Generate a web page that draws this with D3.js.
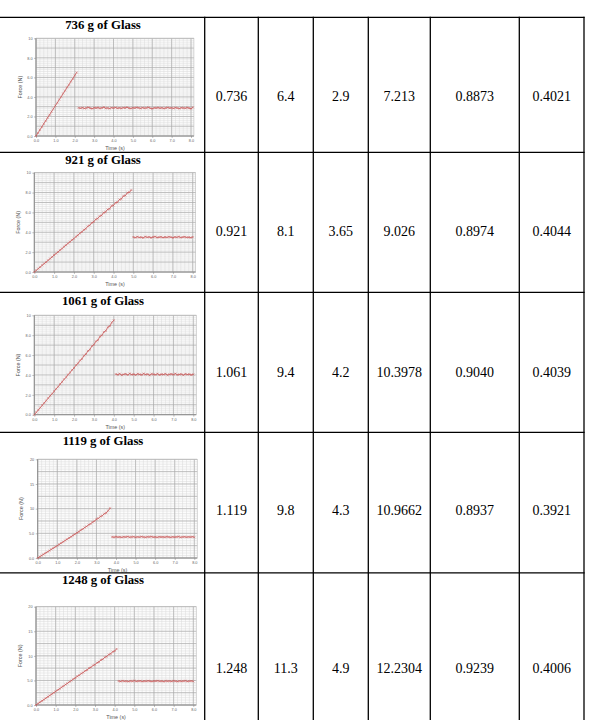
<!DOCTYPE html>
<html><head><meta charset="utf-8">
<script src="https://cdn.jsdelivr.net/npm/d3@7"></script>
<style>body{margin:0;background:#fff}svg{display:block}</style>
</head><body>
<script>
// ---------- DATA ----------
const titles = ["736 g of Glass","921 g of Glass","1061 g of Glass","1119 g of Glass","1248 g of Glass"];
const colMass   = ["0.736","0.921","1.061","1.119","1.248"];
const colStatic = ["6.4","8.1","9.4","9.8","11.3"];
const colKinetic= ["2.9","3.65","4.2","4.3","4.9"];
const colNormal = ["7.213","9.026","10.3978","10.9662","12.2304"];
const colMuS    = ["0.8873","0.8974","0.9040","0.8937","0.9239"];
const colMuK    = ["0.4021","0.4044","0.4039","0.3921","0.4006"];

const sampleStep = 0.1; // s between samples
const xTicks = [0,1,2,3,4,5,6,7,8];
const yTicksSmall = [0,2,4,6,8,10];
const yTicksLarge = [0,5,10,15,20];

// ramp (static) samples, starting at t = 0
const ramp1 = [0,0.31,0.63,0.93,1.25,1.55,1.87,2.17,2.49,2.79,3.11,3.4,3.73,4.02,4.35,4.64,4.97,5.25,5.58,5.86,6.2,6.5];
const ramp2 = [0,0.17,0.34,0.5,0.68,0.85,1.0,1.18,1.35,1.52,1.7,1.86,2.02,2.2,2.36,2.55,2.7,2.88,3.04,3.22,3.36,3.56,3.7,3.9,4.03,4.24,4.36,4.6,4.7,4.95,5.05,5.3,5.38,5.62,5.7,5.98,6.04,6.3,6.36,6.66,6.7,6.98,7.02,7.3,7.36,7.65,7.7,7.98,8.02,8.26];
const ramp3 = [0,0.24,0.47,0.71,0.95,1.18,1.42,1.66,1.9,2.12,2.36,2.6,2.82,3.08,3.3,3.56,3.76,4.04,4.24,4.5,4.7,4.98,5.16,5.46,5.62,5.94,6.1,6.42,6.56,6.9,7.04,7.38,7.5,7.86,7.98,8.32,8.44,8.8,8.92,9.28,9.5];
const ramp4 = [0,0.25,0.5,0.75,1.0,1.25,1.5,1.76,2.0,2.26,2.5,2.77,3.02,3.28,3.54,3.8,4.05,4.3,4.58,4.82,5.1,5.34,5.64,5.86,6.18,6.4,6.72,6.92,7.26,7.48,7.86,8.02,8.42,8.56,8.98,9.12,9.6,10.1];
const ramp5 = [0,0.28,0.56,0.83,1.1,1.38,1.66,1.94,2.2,2.5,2.76,3.04,3.3,3.6,3.86,4.16,4.4,4.72,4.96,5.28,5.52,5.84,6.06,6.4,6.6,6.96,7.12,7.5,7.66,8.06,8.2,8.6,8.76,9.16,9.3,9.72,9.86,10.28,10.42,10.84,11.0,11.4];

// plateau (kinetic) samples and their start times
const plateauStart = [2.2, 5.0, 4.1, 3.8, 4.2];
const plateau1 = [2.88,2.84,2.9,2.82,2.87,2.93,2.85,2.8,2.89,2.86,2.91,2.83,2.88,2.95,2.84,2.87,2.81,2.9,2.86,2.92,2.84,2.88,2.83,2.9,2.87,2.94,2.85,2.82,2.89,2.86,2.92,2.88,2.83,2.9,2.85,2.87,2.93,2.84,2.8,2.88,2.86,2.91,2.84,2.89,2.82,2.87,2.92,2.85,2.88,2.83,2.9,2.86,2.81,2.89,2.87,2.84,2.91,2.85,2.8,2.93];
const plateau2 = [3.52,3.46,3.55,3.48,3.5,3.44,3.56,3.49,3.53,3.45,3.51,3.57,3.47,3.5,3.54,3.46,3.52,3.48,3.55,3.5,3.45,3.53,3.49,3.56,3.47,3.51,3.54,3.48,3.5,3.46,3.52];
const plateau3 = [4.08,4.02,4.12,3.98,4.06,4.1,4.0,4.14,4.03,4.07,3.99,4.11,4.05,4.01,4.13,4.04,4.08,3.97,4.1,4.06,4.02,4.12,4.0,4.07,4.04,4.11,3.99,4.06,4.09,4.03,4.13,4.01,4.05,4.08,3.98,4.1,4.04,4.07,4.0,4.06];
const plateau4 = [4.28,4.2,4.32,4.22,4.27,4.18,4.3,4.24,4.35,4.21,4.26,4.31,4.19,4.28,4.23,4.33,4.25,4.2,4.29,4.26,4.34,4.22,4.27,4.18,4.3,4.24,4.28,4.21,4.32,4.25,4.19,4.29,4.23,4.27,4.33,4.2,4.26,4.3,4.22,4.28,4.24,4.31,4.21];
const plateau5 = [4.88,4.8,4.92,4.83,4.86,4.78,4.9,4.84,4.95,4.81,4.87,4.91,4.79,4.88,4.83,4.93,4.85,4.8,4.89,4.86,4.94,4.82,4.87,4.78,4.9,4.84,4.88,4.81,4.92,4.85,4.79,4.89,4.83,4.87,4.93,4.8,4.86,4.9,4.82];

const yMaxes = [10,10,10,20,20];

// ---------- LAYOUT ----------
const W = 590, H = 720;
const rowLines = [17.3,152.3,292.3,432.3,572.8];
const colLines = [204.7,258.3,313.3,368.3,430.3,519.3,584];
const textY = [96.5,231,372,510,668];
const chartGeo = [
  {titleY:25,  x0:36,   x8:191,   yBase:136,   yTop:38.3},
  {titleY:160, x0:34.3, x8:192.7, yBase:272,   yTop:172.7},
  {titleY:301, x0:34.3, x8:193.3, yBase:414.7, yTop:315.3},
  {titleY:441, x0:37.7, x8:194.3, yBase:558,   yTop:459.3},
  {titleY:580, x0:36,   x8:193.3, yBase:705,   yTop:606.7}
];
const ramps = [ramp1,ramp2,ramp3,ramp4,ramp5];
const plateaus = [plateau1,plateau2,plateau3,plateau4,plateau5];
const red = "#c85555";

const svg = d3.select("body").append("svg").attr("width",W).attr("height",H);

// table numbers
const cols = [colMass,colStatic,colKinetic,colNormal,colMuS,colMuK];
cols.forEach((col,ci)=>{
  const cx = (colLines[ci]+colLines[ci+1])/2;
  svg.append("g").selectAll("text").data(col).join("text")
    .attr("x",cx).attr("y",(d,i)=>textY[i])
    .attr("text-anchor","middle").attr("dominant-baseline","central")
    .style("font-family","'Liberation Serif','Times New Roman',serif")
    .style("font-size","14px").attr("fill","#000").text(d=>d);
});

// charts
chartGeo.forEach((g,i)=>{
  const xMax = 8.15;
  const x = d3.scaleLinear().domain([0,xMax]).range([g.x0, g.x0+(g.x8-g.x0)*xMax/8]);
  const y = d3.scaleLinear().domain([0,yMaxes[i]]).range([g.yBase,g.yTop]);
  const big = yMaxes[i] > 10;
  const cg = svg.append("g");

  // title
  svg.append("text").attr("x",103).attr("y",g.titleY)
    .attr("text-anchor","middle").attr("dominant-baseline","central")
    .style("font-family","'Liberation Serif','Times New Roman',serif")
    .style("font-size","12.8px").style("font-weight","bold").text(titles[i]);

  cg.append("rect").attr("x",x(0)).attr("y",y(yMaxes[i]))
    .attr("width",x(xMax)-x(0)).attr("height",y(0)-y(yMaxes[i])).attr("fill","#fcfcfc");

  const xMinor = d3.range(0,xMax,0.2);
  const xMajor = d3.range(0,xMax,1);
  const yMinorStep = big?0.5:0.2, yMajorStep = big?2.5:1;
  const yMinor = d3.range(0,yMaxes[i]+1e-6,yMinorStep);
  const yMajor = d3.range(0,yMaxes[i]+1e-6,yMajorStep);

  cg.append("g").selectAll("line").data(xMinor).join("line")
    .attr("x1",d=>x(d)).attr("x2",d=>x(d)).attr("y1",y(0)).attr("y2",y(yMaxes[i]))
    .attr("stroke","#dadada").attr("stroke-width",0.5);
  cg.append("g").selectAll("line").data(yMinor).join("line")
    .attr("y1",d=>y(d)).attr("y2",d=>y(d)).attr("x1",x(0)).attr("x2",x(xMax))
    .attr("stroke","#dadada").attr("stroke-width",0.5);
  cg.append("g").selectAll("line").data(xMajor).join("line")
    .attr("x1",d=>x(d)).attr("x2",d=>x(d)).attr("y1",y(0)).attr("y2",y(yMaxes[i]))
    .attr("stroke","#a8a8a8").attr("stroke-width",0.65);
  cg.append("g").selectAll("line").data(yMajor).join("line")
    .attr("y1",d=>y(d)).attr("y2",d=>y(d)).attr("x1",x(0)).attr("x2",x(xMax))
    .attr("stroke","#a8a8a8").attr("stroke-width",0.65);
  cg.append("rect").attr("x",x(0)).attr("y",y(yMaxes[i]))
    .attr("width",x(xMax)-x(0)).attr("height",y(0)-y(yMaxes[i]))
    .attr("fill","none").attr("stroke","#bcbcbc").attr("stroke-width",0.6);

  // axes
  const fmt = d => d>=10 ? String(d) : d.toFixed(1);
  const ax = cg.append("g").attr("transform",`translate(0,${y(0)})`)
    .call(d3.axisBottom(x).tickValues(xTicks).tickFormat(fmt).tickSize(2).tickPadding(1.6));
  const ay = cg.append("g").attr("transform",`translate(${x(0)},0)`)
    .call(d3.axisLeft(y).tickValues(big?yTicksLarge:yTicksSmall).tickFormat(fmt).tickSize(2).tickPadding(1.5));
  [ax,ay].forEach(a=>{
    a.select(".domain").attr("stroke","#808080").attr("stroke-width",0.8);
    a.selectAll(".tick line").attr("stroke","#808080").attr("stroke-width",0.5);
    a.selectAll("text").style("font-family","'Liberation Sans',Arial,sans-serif")
      .style("font-size","3.8px").attr("fill","#666");
  });
  ay.select(".domain").attr("d",`M0,${y(yMaxes[i])}V${y(0)}`);
  ax.select(".domain").attr("d",`M${x(0)},0H${x(xMax)}`);

  cg.append("text").attr("x",(x(0)+x(xMax))/2).attr("y",y(0)+12)
    .attr("text-anchor","middle").attr("dominant-baseline","central")
    .style("font-family","'Liberation Sans',Arial,sans-serif").style("font-size","5.4px")
    .attr("fill","#555").text("Time (s)");
  cg.append("text")
    .attr("transform",`translate(${x(0)-16.5},${(y(0)+y(yMaxes[i]))/2}) rotate(-90)`)
    .attr("text-anchor","middle").attr("dominant-baseline","central")
    .style("font-family","'Liberation Sans',Arial,sans-serif").style("font-size","5.4px")
    .attr("fill","#555").text("Force (N)");

  // data
  const rampPts = ramps[i].map((f,k)=>[k*sampleStep,f]);
  const platPts = plateaus[i].map((f,k)=>[plateauStart[i]+k*sampleStep,f]);
  const line = d3.line().x(d=>x(d[0])).y(d=>y(d[1]));
  [rampPts,platPts].forEach(pts=>{
    cg.append("path").datum(pts).attr("d",line).attr("fill","none")
      .attr("stroke",red).attr("stroke-width",0.75);
    cg.append("g").selectAll("path").data(pts).join("path")
      .attr("transform",d=>`translate(${x(d[0])},${y(d[1])})`)
      .attr("d","M-1.1,-1.1L1.1,1.1M-1.1,1.1L1.1,-1.1")
      .attr("stroke",red).attr("stroke-width",0.5).attr("fill","none").attr("opacity",0.85);
  });
});

// table grid
const grid = svg.append("g").attr("stroke","#000").attr("stroke-width",1.3);
grid.selectAll("line.h").data(rowLines).join("line").attr("class","h")
  .attr("x1",-2).attr("x2",colLines[colLines.length-1]+0.6).attr("y1",d=>d).attr("y2",d=>d);
grid.selectAll("line.v").data(colLines).join("line").attr("class","v")
  .attr("x1",d=>d).attr("x2",d=>d).attr("y1",rowLines[0]-0.6).attr("y2",H+2);
</script>
</body></html>
